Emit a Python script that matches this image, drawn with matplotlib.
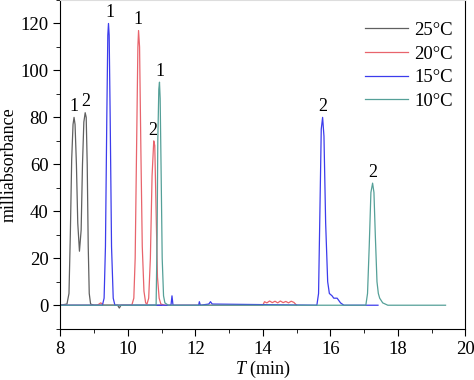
import numpy as np
import matplotlib.pyplot as plt
from matplotlib.ticker import MultipleLocator

plt.rcParams['font.family'] = ['Liberation Serif', 'DejaVu Serif']
plt.rcParams['mathtext.fontset'] = 'custom'
plt.rcParams['mathtext.it'] = 'Liberation Serif:italic'

# traces (time in min, milliabsorbance)
t25 = [8.0, 8.2, 8.26, 8.30, 8.34, 8.38, 8.41, 8.44, 8.48, 8.52, 8.57, 8.62, 8.66,
       8.70, 8.74, 8.77, 8.80, 8.83, 8.86, 8.90, 9.0, 9.7, 9.75, 9.8, 11.0]
a25 = [0, 0.5, 5, 30, 62, 77, 80, 77, 60, 35, 23, 32, 60,
       78, 82, 80, 60, 25, 5, 0.5, 0, 0, -1.2, 0, 0]

t20 = [8.0, 9.1, 9.2, 9.3, 10.12, 10.18, 10.22, 10.26, 10.30, 10.32, 10.35, 10.39,
       10.43, 10.48, 10.53, 10.57, 10.62, 10.67, 10.72, 10.77, 10.80, 10.84, 10.88,
       10.93, 10.98, 11.1, 14.0, 14.05, 14.12, 14.2, 14.28, 14.36, 14.44, 14.52,
       14.6, 14.68, 14.76, 14.84, 14.92, 15.0]
a20 = [0, 0, 1, 0, 0, 3, 20, 65, 110, 117, 110, 65,
       25, 6, 1, 0.5, 3, 20, 55, 70, 68, 40, 12,
       3, 0.5, 0, 0, 1.5, 1.0, 1.8, 1.1, 1.7, 1.0, 1.8,
       1.1, 1.6, 1.0, 1.7, 1.2, 0]

t15 = [8.0, 9.25, 9.30, 9.34, 9.38, 9.41, 9.43, 9.45, 9.48, 9.52, 9.57, 9.62,
       11.28, 11.31, 11.34, 12.1, 12.12, 12.15, 12.4, 12.45, 12.5, 15.6, 15.65,
       15.69, 15.73, 15.77, 15.81, 15.86, 15.92, 15.97, 16.05, 16.1, 16.2, 16.3,
       16.4, 17.41]
a15 = [0, 0, 3, 25, 80, 115, 120, 115, 80, 25, 3, 0,
       0, 4, 0, 0, 1.5, 0, 0.5, 1.5, 0.5, 0, 5,
       40, 75, 80, 72, 35, 10, 5, 4, 3, 3, 1,
       0, 0]

t10 = [8.0, 10.84, 10.87, 10.89, 10.92, 10.94, 10.96, 10.99, 11.02, 11.06, 11.1,
       11.2, 17.05, 17.1, 17.15, 17.2, 17.25, 17.29, 17.33, 17.38, 17.42, 17.46,
       17.55, 17.7, 19.41]
a10 = [0, 0, 30, 70, 92, 95, 88, 55, 20, 4, 1,
       0, 0, 5, 25, 48, 52, 48, 30, 10, 5, 3,
       1, 0, 0]

# peak labels: (time, height, text)
peaks = [(8.41, 80, '1'), (8.77, 82, '2'), (9.46, 120, '1'), (10.3, 117, '1'),
         (10.74, 70, '2'), (10.96, 95, '1'), (15.77, 80, '2'), (17.25, 52, '2')]

fig = plt.figure(figsize=(4.74, 3.80), dpi=100)
ax = fig.add_axes([0.127, 0.135, 0.855, 0.865])

ax.plot(t25, a25, color='#606060', lw=0.9, label='25°C')
ax.plot(t20, a20, color='#e8646c', lw=0.9, label='20°C')
ax.plot(t15, a15, color='#3c3cec', lw=0.9, label='15°C')
ax.plot(t10, a10, color='#55a098', lw=0.9, label='10°C')

for t, h, s in peaks:
    ax.text(t, h + 1, s, ha='center', va='bottom', fontsize=13)

ax.set_xlim(8, 20)
ax.set_ylim(-10, 130)
ax.xaxis.set_major_locator(MultipleLocator(2))
ax.xaxis.set_minor_locator(MultipleLocator(1))
ax.yaxis.set_major_locator(MultipleLocator(20))
ax.yaxis.set_minor_locator(MultipleLocator(10))
ax.tick_params(which='both', direction='out', labelsize=13.5, top=False, right=False)
ax.tick_params(which='major', length=5)
ax.tick_params(which='minor', length=3)
ax.spines['top'].set_color('#dddddd')
ax.set_xlabel('$T$ (min)', fontsize=13, labelpad=1)
ax.set_ylabel('milliabsorbance', fontsize=13, labelpad=2)

ax.legend(loc='upper right', bbox_to_anchor=(1.01, 0.985), frameon=False,
          fontsize=13.5, handlelength=2.3, handletextpad=0.3,
          borderaxespad=0.5, labelspacing=0.35)

plt.savefig('out.png', dpi=100)
